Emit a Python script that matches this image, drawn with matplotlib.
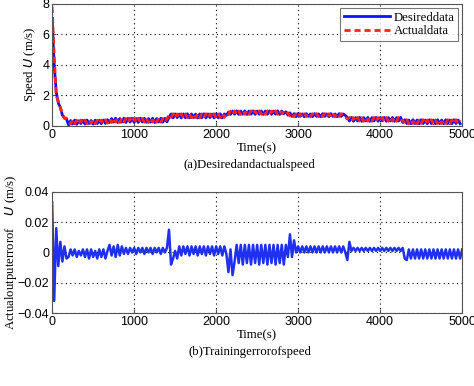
import matplotlib
matplotlib.use('Agg')
import matplotlib.pyplot as plt
import numpy as np

# sampled every 25 s from t = 0 to 5000 s
desired = [7.0, 4.0, 2.2, 1.5, 1.2, 0.7, 0.5, 0.45,
           0.05, 0.35, 0.12, 0.38, 0.10, 0.33, 0.15, 0.36, 0.12, 0.38,
           0.15, 0.35, 0.12, 0.37, 0.15, 0.36, 0.14, 0.38, 0.16, 0.40,
           0.22, 0.48, 0.25, 0.50, 0.22, 0.48, 0.24, 0.50, 0.22, 0.49,
           0.25, 0.50, 0.23, 0.48, 0.22, 0.50, 0.25, 0.49, 0.23, 0.48,
           0.24, 0.50, 0.22, 0.48, 0.25, 0.50, 0.24, 0.49, 0.26,
           0.55, 0.78, 0.52, 0.78, 0.54, 0.77, 0.52, 0.78, 0.53, 0.79,
           0.52, 0.78, 0.54, 0.77, 0.52, 0.78, 0.53, 0.79, 0.52, 0.78,
           0.54, 0.77, 0.52, 0.78, 0.53, 0.79, 0.52, 0.78,
           0.68, 0.90, 0.75, 0.97, 0.76, 0.98, 0.75, 0.97, 0.76, 0.98,
           0.75, 0.97, 0.76, 0.98, 0.75, 0.97, 0.76, 0.98, 0.75, 0.97,
           0.76, 0.98, 0.75, 0.97, 0.76, 0.98, 0.75, 0.97,
           0.80, 0.92, 0.70, 0.85, 0.62, 0.80, 0.60, 0.80, 0.62, 0.78,
           0.60, 0.80, 0.62, 0.78, 0.60, 0.80, 0.62, 0.78, 0.60, 0.80,
           0.62, 0.78, 0.60, 0.80, 0.62, 0.78, 0.60, 0.80, 0.62, 0.78,
           0.68, 0.55, 0.32, 0.55, 0.30, 0.54, 0.32, 0.55, 0.30, 0.54,
           0.32, 0.55, 0.30, 0.54, 0.32, 0.55, 0.30, 0.54, 0.32, 0.55,
           0.30, 0.54, 0.32, 0.55, 0.30, 0.54, 0.32, 0.55,
           0.22, 0.40, 0.15, 0.38, 0.14, 0.40, 0.15, 0.38, 0.14, 0.40,
           0.15, 0.38, 0.14, 0.40, 0.15, 0.38, 0.14, 0.40, 0.15, 0.38,
           0.14, 0.40, 0.15, 0.38, 0.14, 0.40, 0.15, 0.38, 0.14]

actual = [7.8, 4.6, 2.0, 1.6, 1.2, 0.8, 0.5, 0.5,
          0.30, 0.12, 0.38, 0.14, 0.36, 0.12, 0.38, 0.16, 0.38, 0.14,
          0.36, 0.16, 0.38, 0.14, 0.36, 0.16, 0.38, 0.15, 0.40, 0.18,
          0.45, 0.22, 0.50, 0.24, 0.49, 0.22, 0.50, 0.25, 0.48, 0.23,
          0.50, 0.24, 0.49, 0.22, 0.50, 0.23, 0.49, 0.24, 0.50, 0.22,
          0.48, 0.25, 0.49, 0.23, 0.50, 0.24, 0.48, 0.26, 0.45,
          0.72, 0.55, 0.79, 0.53, 0.78, 0.54, 0.79, 0.52, 0.78, 0.54,
          0.79, 0.53, 0.78, 0.54, 0.79, 0.52, 0.78, 0.54, 0.79, 0.53,
          0.78, 0.54, 0.79, 0.52, 0.78, 0.54, 0.79, 0.55,
          0.85, 0.74, 0.97, 0.75, 0.98, 0.76, 0.97, 0.75, 0.98, 0.76,
          0.97, 0.75, 0.98, 0.76, 0.97, 0.75, 0.98, 0.76, 0.97, 0.75,
          0.98, 0.76, 0.97, 0.75, 0.98, 0.76, 0.99, 0.80,
          0.95, 0.78, 0.86, 0.65, 0.80, 0.60, 0.79, 0.61, 0.80, 0.60,
          0.79, 0.61, 0.80, 0.60, 0.79, 0.61, 0.80, 0.60, 0.79, 0.61,
          0.80, 0.60, 0.79, 0.61, 0.80, 0.60, 0.79, 0.61, 0.80, 0.62,
          0.58, 0.45, 0.55, 0.31, 0.54, 0.30, 0.55, 0.31, 0.54, 0.30,
          0.55, 0.31, 0.54, 0.30, 0.55, 0.31, 0.54, 0.30, 0.55, 0.31,
          0.54, 0.30, 0.55, 0.31, 0.54, 0.30, 0.55, 0.31,
          0.38, 0.16, 0.40, 0.14, 0.38, 0.15, 0.40, 0.14, 0.38, 0.15,
          0.40, 0.14, 0.38, 0.15, 0.40, 0.14, 0.38, 0.15, 0.40, 0.14,
          0.38, 0.15, 0.40, 0.14, 0.38, 0.15, 0.40, 0.14, 0.38]

error = [0.033, -0.032, 0.016, -0.009, 0.007, -0.006, 0.004, -0.004,
         -0.003, 0.002, -0.002, 0.002, -0.003, 0.001, -0.002, 0.002, -0.003, 0.002,
         -0.004, 0.002, -0.003, 0.001, -0.004, 0.002, -0.003, 0.002, -0.004, 0.001,
         0.005, -0.002, 0.004, -0.003, 0.005, -0.002, 0.004, -0.001,
         0.003, -0.001, 0.003, 0.000, 0.003, -0.001, 0.003, 0.000, 0.003, -0.001,
         0.003, 0.000, 0.003, -0.001, 0.003, 0.000, 0.003, -0.001, 0.003, 0.000, 0.003,
         0.015, -0.008, -0.004, 0.001, -0.004,
         0.004, -0.002, 0.004, -0.001, 0.004, -0.002, 0.004, -0.001, 0.004, -0.002,
         0.004, -0.001, 0.004, -0.002, 0.004, -0.001, 0.004, -0.002, 0.004, -0.001,
         0.004, -0.002, 0.004, -0.001,
         -0.013, 0.002, -0.015, -0.006,
         0.005, -0.007, 0.005, -0.008, 0.005, -0.007, 0.005, -0.008, 0.005, -0.007,
         0.005, -0.008, 0.005, -0.007, 0.005, -0.008, 0.005, -0.007, 0.005, -0.008,
         0.005, -0.007, 0.005, -0.008, 0.005,
         -0.003, 0.012, -0.003, 0.008,
         0.000, 0.004, 0.000, 0.004, 0.000, 0.004, 0.000, 0.004, 0.000, 0.004,
         0.000, 0.004, 0.000, 0.004, 0.000, 0.004, 0.000, 0.004, 0.000, 0.004,
         0.000, 0.004, 0.000, 0.004, 0.000,
         -0.005, 0.007,
         0.001, 0.003, 0.001, 0.003, 0.001, 0.003, 0.001, 0.003, 0.001, 0.003,
         0.001, 0.003, 0.001, 0.003, 0.001, 0.003, 0.001, 0.003, 0.001, 0.003,
         0.001, 0.003, 0.001, 0.003, 0.001, 0.003,
         -0.004, -0.005,
         0.002, -0.004, 0.002, -0.004, 0.002, -0.004, 0.002, -0.004, 0.002, -0.004,
         0.002, -0.004, 0.002, -0.004, 0.002, -0.004, 0.002, -0.004, 0.002, -0.004,
         0.002, -0.004, 0.002, -0.004, 0.002, -0.004, 0.002]

t_speed = np.arange(len(desired)) * 25
t_err = np.arange(len(error)) * 25

serif = 'Liberation Serif'
sans = 'Liberation Sans'
fs = 9.2

fig = plt.figure(figsize=(4.74, 3.86), dpi=100)
ax1 = fig.add_axes([0.110, 0.674, 0.865, 0.316])
ax2 = fig.add_axes([0.110, 0.189, 0.865, 0.314])

ax1.plot(t_speed, desired, color='#1010ff', lw=2.0, label='Desireddata')
ax1.plot(t_speed, actual, color='#ff2020', lw=2.0, ls='--', dashes=(2.2, 1.4), label='Actualdata')
ax1.set_xlim(0, 5000)
ax1.set_ylim(0, 8)
ax1.set_yticks([0, 2, 4, 6, 8])
ax1.set_xlabel('Time(s)', fontfamily=serif, fontsize=fs, labelpad=1)
ax1.set_ylabel('Speed $U$ (m/s)', fontfamily=serif, fontsize=fs, labelpad=3)
fig.text(0.527, 0.572, '(a)Desiredandactualspeed', ha='center', va='center',
         fontfamily=serif, fontsize=fs)
leg = ax1.legend(loc='upper right', prop={'family': serif, 'size': fs}, frameon=True,
                 fancybox=False, borderaxespad=0.3, handlelength=3.6, handletextpad=0.3,
                 labelspacing=0.15, borderpad=0.3)
leg.get_frame().set_edgecolor('#555555')
leg.get_frame().set_linewidth(0.8)

ax2.plot(t_err, error, color='#2030f0', lw=1.8)
ax2.set_xlim(0, 5000)
ax2.set_ylim(-0.04, 0.04)
ax2.set_yticks([-0.04, -0.02, 0, 0.02, 0.04])
ax2.set_yticklabels(['\u22120.04', '\u22120.02', '0', '0.02', '0.04'])
ax2.set_xlabel('Time(s)', fontfamily=serif, fontsize=fs, labelpad=1)
ax2.set_ylabel('Actualoutputerrorof    $U$ (m/s)', fontfamily=serif, fontsize=fs, labelpad=-1)
fig.text(0.527, 0.088, '(b)Trainingerrorofspeed', ha='center', va='center',
         fontfamily=serif, fontsize=fs)

for ax in (ax1, ax2):
    ax.set_xticks([0, 1000, 2000, 3000, 4000, 5000])
    ax.grid(True, color='black', ls=(0, (1, 3)), lw=0.8)
    ax.tick_params(direction='in', length=3, labelsize=9, color='#555555', pad=2)
    for lab in ax.get_xticklabels() + ax.get_yticklabels():
        lab.set_fontfamily(sans)
    for s in ax.spines.values():
        s.set_color('#555555')
        s.set_linewidth(0.8)

fig.savefig('out.png', dpi=100)
